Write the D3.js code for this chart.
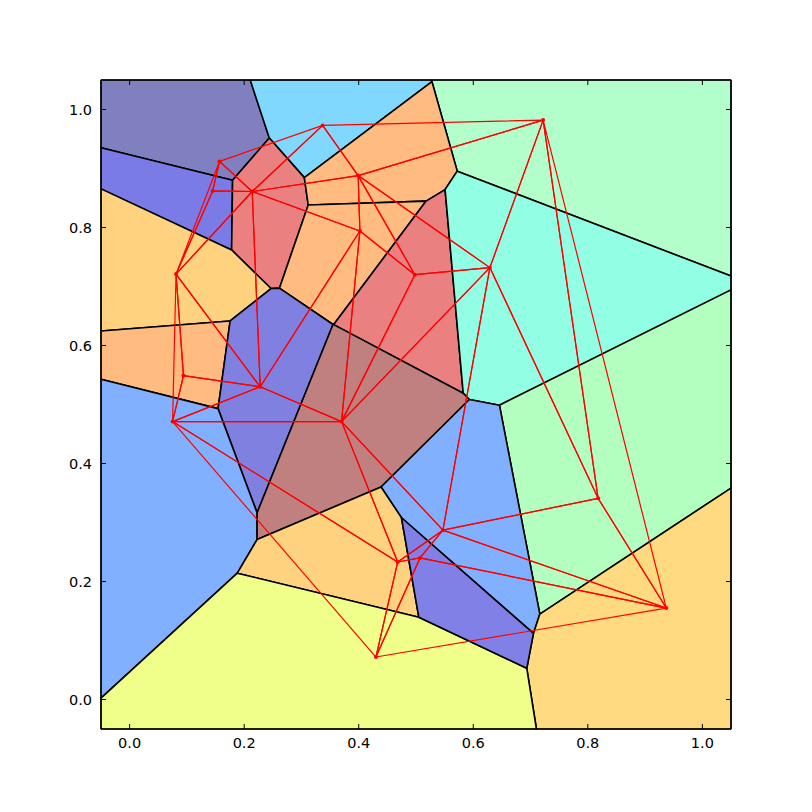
<!DOCTYPE html>
<html>
<head>
<meta charset="utf-8">
<script src="https://cdn.jsdelivr.net/npm/d3@7"></script>
<style>
  body { margin: 0; background: #fff; }
  text { font-family: "DejaVu Sans", sans-serif; font-size: 14.5px; fill: #000; }
</style>
</head>
<body>
<script>
// seed points (data coords)
var xs = [0.157, 0.337, 0.722, 0.145, 0.214, 0.399, 0.402, 0.081, 0.498, 0.629,
          0.094, 0.228, 0.075, 0.370, 0.818, 0.547, 0.468, 0.937, 0.430, 0.507];
var ys = [0.912, 0.973, 0.982, 0.862, 0.861, 0.888, 0.794, 0.721, 0.720, 0.732,
          0.549, 0.530, 0.471, 0.471, 0.341, 0.287, 0.233, 0.155, 0.072, 0.240];
// colour of each cell
var cellColors = ["#8080c0", "#80d8ff", "#b2ffcc", "#7b7be8", "#eb8080", "#ffbb80", "#ffbb80",
                  "#ffd280", "#eb8080", "#92ffe4", "#ffbb80", "#8080e0", "#80b0ff", "#c08080",
                  "#b2ffc0", "#80b0ff", "#ffd280", "#ffda80", "#f0ff8a", "#8080e6"];
var ticks = [0.0, 0.2, 0.4, 0.6, 0.8, 1.0];
var lo = -0.05, hi = 1.05;

var W = 812, H = 812;
var mLeft = 101, mRight = 731, mTop = 80, mBottom = 729;

var x = d3.scaleLinear().domain([lo, hi]).range([mLeft, mRight]);
var y = d3.scaleLinear().domain([lo, hi]).range([mBottom, mTop]);

var pts = xs.map(function(v, i) { return [v, ys[i]]; });
var delaunay = d3.Delaunay.from(pts);
var voronoi = delaunay.voronoi([lo, lo, hi, hi]);

var svg = d3.select("body").append("svg")
  .attr("width", W)
  .attr("height", H);

var line = d3.line()
  .x(function(d) { return x(d[0]); })
  .y(function(d) { return y(d[1]); });

// cells
svg.append("g").selectAll("path")
  .data(pts)
  .enter().append("path")
  .attr("d", function(d, i) { return line(voronoi.cellPolygon(i)); })
  .attr("fill", function(d, i) { return cellColors[i]; })
  .attr("stroke", "#000")
  .attr("stroke-width", 1.6)
  .attr("stroke-linejoin", "round");

// triangulation
var tris = [];
var t = delaunay.triangles;
for (var i = 0; i < t.length; i += 3) {
  tris.push([pts[t[i]], pts[t[i + 1]], pts[t[i + 2]], pts[t[i]]]);
}
svg.append("g").selectAll("path")
  .data(tris)
  .enter().append("path")
  .attr("d", line)
  .attr("fill", "none")
  .attr("stroke", "#ff0000")
  .attr("stroke-width", 1.2)
  .attr("stroke-linejoin", "round");

svg.append("g").selectAll("circle")
  .data(pts)
  .enter().append("circle")
  .attr("cx", function(d) { return x(d[0]); })
  .attr("cy", function(d) { return y(d[1]); })
  .attr("r", 2)
  .attr("fill", "#ff0000");

// frame
svg.append("rect")
  .attr("x", mLeft).attr("y", mTop)
  .attr("width", mRight - mLeft).attr("height", mBottom - mTop)
  .attr("fill", "none").attr("stroke", "#000").attr("stroke-width", 1);

// ticks (inward, all four sides)
var tk = svg.append("g").attr("stroke", "#000").attr("stroke-width", 1);
ticks.forEach(function(v) {
  tk.append("line").attr("x1", x(v)).attr("x2", x(v)).attr("y1", mBottom).attr("y2", mBottom - 5);
  tk.append("line").attr("x1", x(v)).attr("x2", x(v)).attr("y1", mTop).attr("y2", mTop + 5);
  tk.append("line").attr("y1", y(v)).attr("y2", y(v)).attr("x1", mLeft).attr("x2", mLeft + 5);
  tk.append("line").attr("y1", y(v)).attr("y2", y(v)).attr("x1", mRight).attr("x2", mRight - 5);
});

svg.append("g").selectAll("text")
  .data(ticks)
  .enter().append("text")
  .attr("x", function(d) { return x(d); })
  .attr("y", mBottom + 19)
  .attr("text-anchor", "middle")
  .text(function(d) { return d.toFixed(1); });

svg.append("g").selectAll("text")
  .data(ticks)
  .enter().append("text")
  .attr("x", mLeft - 9)
  .attr("y", function(d) { return y(d) + 5; })
  .attr("text-anchor", "end")
  .text(function(d) { return d.toFixed(1); });
</script>
</body>
</html>
